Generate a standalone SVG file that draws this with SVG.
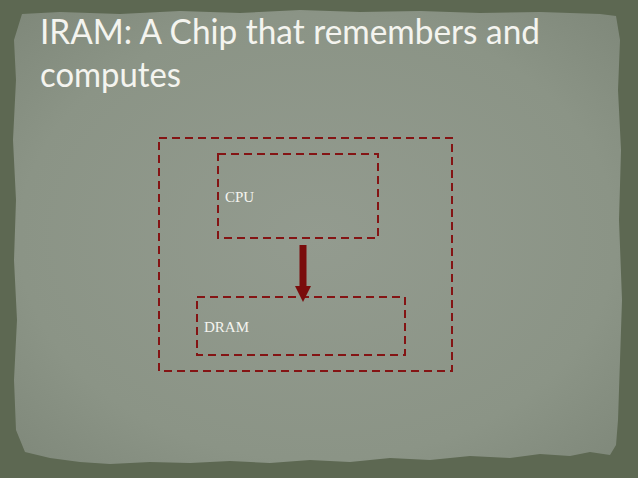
<svg xmlns="http://www.w3.org/2000/svg" width="638" height="478" viewBox="0 0 638 478">
  <defs>
    <style>
      .title { font-family: Lato, "Open Sans", "DejaVu Sans", sans-serif; font-size: 34px; fill: #f4f4ef; }
      .lbl { font-family: "Liberation Serif", "DejaVu Serif", serif; font-size: 15px; fill: #f4f4ef; }
      .box { fill: none; stroke: #841414; stroke-width: 2; stroke-dasharray: 8 5; }
      .arrow { fill: #7a0c0c; }
    </style>
    <radialGradient id="paper" cx="0.5" cy="0.5" r="0.7">
      <stop offset="0" stop-color="#939b8f"/>
      <stop offset="0.7" stop-color="#8b9486"/>
      <stop offset="1" stop-color="#7f887a"/>
    </radialGradient>
  </defs>
  <rect width="638" height="478" fill="#5d6852"/>
  <path d="M22,14 L60,12 L120,14 L180,11 L240,13 L300,10 L360,12 L420,11 L480,13 L540,12 L600,14 L616,16 L620,40 L618,90 L621,150 L619,220 L622,300 L620,360 L618,420 L616,445 L610,455 L590,452 L570,456 L540,454 L510,458 L470,456 L430,460 L390,458 L350,462 L310,460 L270,463 L230,461 L190,463 L150,462 L110,464 L80,462 L50,458 L25,452 L16,430 L14,380 L17,320 L14,260 L16,200 L13,140 L16,80 L14,40 Z" fill="url(#paper)"/>
  <text class="title" x="40" y="44" textLength="500" lengthAdjust="spacingAndGlyphs">IRAM: A Chip that remembers and</text>
  <text class="title" x="40" y="87" textLength="141" lengthAdjust="spacingAndGlyphs">computes</text>
  <g id="outer">
    <rect class="box" x="159" y="138" width="293" height="233"/>
  </g>
  <g id="cpu">
    <rect class="box" x="218" y="154" width="160" height="84"/>
    <text class="lbl" x="225" y="202">CPU</text>
  </g>
  <g id="dram">
    <rect class="box" x="197" y="297" width="208" height="58"/>
    <text class="lbl" x="204" y="332">DRAM</text>
  </g>
  <g id="connectors">
    <rect class="arrow" x="299.5" y="245" width="7" height="42"/>
    <polygon class="arrow" points="295,286 311,286 303,302"/>
  </g>
</svg>
